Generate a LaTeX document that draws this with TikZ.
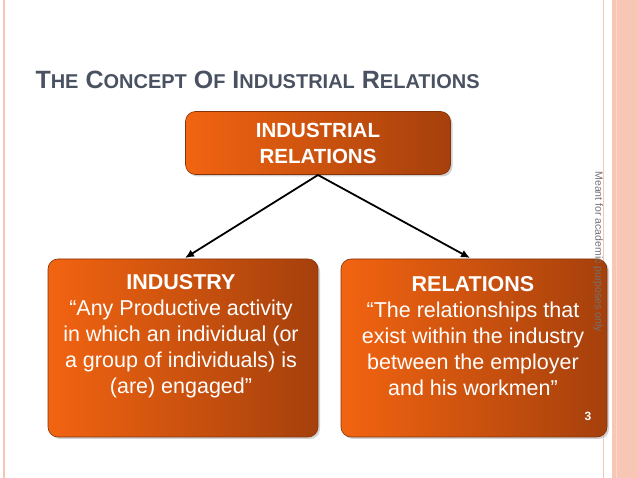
\documentclass[tikz,border=0pt]{standalone}
\usepackage{fontspec}
\setmainfont{Liberation Sans}
\usetikzlibrary{shadows,arrows.meta}
\definecolor{ttl}{HTML}{4A5262}
\definecolor{pinkb}{HTML}{F8C6B4}
\definecolor{orL}{HTML}{F26411}
\definecolor{orR}{HTML}{A5400C}
\tikzset{
 obox/.style={rounded corners=10pt, left color=orL, right color=orR, draw=orR!80!black, line width=0.6pt,
   drop shadow={shadow xshift=2pt, shadow yshift=-2pt, fill=black!35, opacity=0.5},
   inner sep=0pt},
 otext/.style={text=white, align=center, inner sep=0pt},
 conn/.style={-{Latex[length=9pt,width=8pt]}, line width=1.8pt, black}
}
\begin{document}
\begin{tikzpicture}[x=1pt,y=-1pt]
\useasboundingbox (0,0) rectangle (638,478);
\fill[white] (0,0) rectangle (638,478);
\draw[pinkb, line width=1.5pt] (4,0) -- (4,478);
\draw[pinkb, line width=1pt] (603,0) -- (603,478);
\fill[pinkb] (612,0) rectangle (638,478);
\draw[pinkb!70!white, line width=1pt] (616,0) -- (616,478);
\node[anchor=west, text=ttl, font=\bfseries\fontsize{25}{27}\selectfont] (title) at (32,80)
 {T{\fontsize{20}{22}\selectfont HE} C{\fontsize{20}{22}\selectfont ONCEPT} O{\fontsize{20}{22}\selectfont F} I{\fontsize{20}{22}\selectfont NDUSTRIAL} R{\fontsize{20}{22}\selectfont ELATIONS}};
\node[obox, minimum width=265pt, minimum height=63pt] (top) at (318,143) {};
\node[otext, font=\bfseries\fontsize{20.5}{26}\selectfont] (toptxt) at (top.center) {INDUSTRIAL\\RELATIONS};
\node[obox, minimum width=270pt, minimum height=178pt] (ind) at (183,348) {};
\node[otext, font=\fontsize{21.5}{26}\selectfont] (indtxt) at (181,336)
 {\textbf{INDUSTRY}\\``Any Productive activity\\in which an individual (or\\a group of individuals) is\\(are) engaged''};
\node[obox, minimum width=266pt, minimum height=178pt] (rel) at (474,348) {};
\node[otext, font=\fontsize{21.5}{26}\selectfont] (reltxt) at (473,336)
 {\textbf{RELATIONS}\\``The relationships that\\exist within the industry\\between the employer\\and his workmen''};
\coordinate (apex) at (318,175);
\draw[conn] (apex) -- (185,258);
\draw[conn] (apex) -- (470,258);
\node[text=white, font=\bfseries\fontsize{12}{14}\selectfont] (pg) at (588,416) {3};
\node[rotate=-90, text=black!55, font=\fontsize{10.5}{12}\selectfont, anchor=west] (note) at (598,168) {Meant for academic purposes only};
\end{tikzpicture}
\end{document}
